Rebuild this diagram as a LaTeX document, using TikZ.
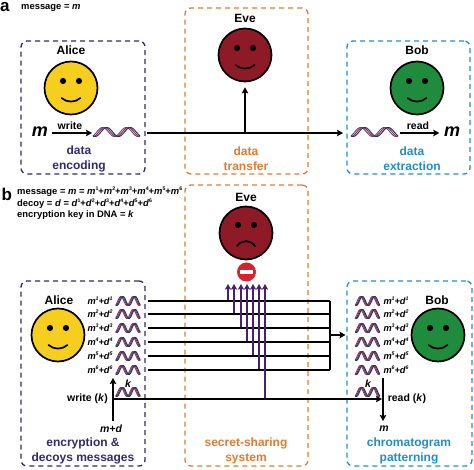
\documentclass[tikz,border=0pt]{standalone}
\usepackage{fontspec}
\setmainfont{Liberation Sans}
\usepackage{xcolor}
\usetikzlibrary{arrows.meta,positioning}
\definecolor{apurple}{HTML}{33296F}
\definecolor{eorange}{HTML}{E8792B}
\definecolor{bblue}{HTML}{1F8FCB}
\definecolor{fyellow}{HTML}{F5CE1F}
\definecolor{fred}{HTML}{8E1A28}
\definecolor{fgreen}{HTML}{1F8C3D}
\definecolor{leakp}{HTML}{4A1F73}
\definecolor{dnared}{HTML}{A62B3A}
\definecolor{dnanavy}{HTML}{28306E}
\definecolor{stopred}{HTML}{D9232B}
\newcommand{\up}[1]{\raisebox{.42em}{\fontsize{5.2}{6}\selectfont #1}}

\tikzset{
  pics/smile/.style={code={
    \fill (-8,-7) circle (3.1pt) (8,-7) circle (3.1pt);
    \draw[line width=1.7pt,line cap=round] (-9.5,10) .. controls (-4,14.8) and (4,14.8) .. (9.5,10);
  }},
  pics/frown/.style={code={
    \fill (-8,-8) circle (3.1pt) (8,-8) circle (3.1pt);
    \draw[line width=1.7pt,line cap=round] (-9,13) .. controls (-4,6.5) and (4,6.5) .. (9,13);
  }},
  pics/dna/.style={code={
    \draw[dnanavy!60!gray,line width=.9pt,domain=-23.5:23.5,samples=50] plot (\x,{4.5*cos(\x*15.3+32)});
    \draw[dnared,line width=1pt,domain=-23.5:23.5,samples=50] plot (\x,{4.5*cos(\x*15.3)});
    \draw[dnanavy,line width=1pt,domain=-23.5:23.5,samples=50] plot (\x,{4.5*cos(\x*15.3-32)});
  }}
}

\begin{document}
\begin{tikzpicture}[
  x=1pt,y=-1pt,
  every node/.style={font=\fontsize{12}{15}\selectfont\bfseries,inner sep=0pt,align=center},
  panel/.style={draw,rounded corners=6pt,line width=1.3pt,dash pattern=on 5pt off 4pt},
  face/.style={circle,draw=black,line width=1.7pt,minimum size=53pt},
  tag/.style={font=\fontsize{17}{17}\selectfont\bfseries},
  info/.style={font=\fontsize{9.4}{11.5}\selectfont\bfseries,anchor=west},
  verb/.style={font=\fontsize{10.5}{12}\selectfont\bfseries},
  bigm/.style={font=\fontsize{18}{18}\selectfont\bfseries\itshape},
  share/.style={font=\fontsize{9.2}{11}\selectfont\bfseries\itshape},
  keyl/.style={font=\fontsize{10.5}{12}\selectfont\bfseries\itshape},
  wire/.style={line width=2pt,line cap=square},
  arrow/.style={line width=2pt,-{Stealth[length=6pt,width=6.5pt,inset=1pt]}},
  leak/.style={leakp,line width=1.6pt,-{Stealth[length=5.5pt,width=6pt,inset=.8pt]}}
]
\useasboundingbox (0,0) rectangle (474,470);

% panel a
\node[tag,anchor=west] (taga) at (0,7.5) {a};
\node[info] (msga) at (21,8) {message = \textit{m}};
\node[panel,draw=apurple,minimum width=124pt,minimum height=133pt] (boxaa) at (83,107.5) {};
\node[panel,draw=eorange,minimum width=123pt,minimum height=166pt] (boxea) at (246.5,91) {};
\node[panel,draw=bblue,minimum width=123pt,minimum height=133pt] (boxba) at (408.5,107.5) {};

\node[face,fill=fyellow] (alicea) at (71,88) {};
\pic at (alicea) {smile};
\node[above=6pt of alicea] (lalicea) {Alice};
\node[face,fill=fred] (evea) at (245,55) {};
\pic at (evea) {smile};
\node[above=5pt of evea] (levea) {Eve};
\node[face,fill=fgreen] (boba) at (417,88) {};
\pic at (boba) {smile};
\node[above=6pt of boba] (lboba) {Bob};

\node[bigm] (ma) at (40,132) {m};
\coordinate (dnaain) at (92,133);
\pic at (116.5,132) {dna};
\node[verb] (writea) at (70,126) {write};
\draw[arrow] (52,133) coordinate (writeain) -- (dnaain);
\node[text=apurple] (lencode) at (79,158.5) {data\\encoding};

\coordinate (senda) at (147,133);
\coordinate (recva) at (343,133);
\coordinate (tapa) at (245,133);
\draw[arrow] (senda) -- (recva);
\draw[arrow,shorten >=5pt] (tapa) -- (evea.south);
\node[text=eorange] (ltransfer) at (246,158.5) {data\\transfer};

\pic at (374.5,132) {dna};
\node[verb] (reada) at (418,126) {read};
\node[bigm] (mb) at (452,132) {m};
\draw[arrow,shorten >=4.5pt] (400,133) coordinate (readain) -- (mb.west |- 0,133);
\node[text=bblue] (lextract) at (412,158.5) {data\\extraction};

% panel b
\node[tag,anchor=west] (tagb) at (1.5,194.5) {b};
\node[info] (msgb) at (17,192) {message = \textit{m} = \textit{m}\up{1}+\textit{m}\up{2}+\textit{m}\up{3}+\textit{m}\up{4}+\textit{m}\up{5}+\textit{m}\up{6}};
\node[info] (decoyb) at (17,204) {decoy = \textit{d} = \textit{d}\up{1}+\textit{d}\up{2}+\textit{d}\up{3}+\textit{d}\up{4}+\textit{d}\up{5}+\textit{d}\up{6}};
\node[info] (keyb) at (17,215) {encryption key in DNA = \textit{k}};
\node[panel,draw=apurple,minimum width=124pt,minimum height=185pt] (boxab) at (83,373.5) {};
\node[panel,draw=eorange,minimum width=123pt,minimum height=281pt] (boxeb) at (246.5,325.5) {};
\node[panel,draw=bblue,minimum width=125pt,minimum height=185pt] (boxbb) at (409.5,373.5) {};

\node[face,fill=fyellow] (aliceb) at (58,335) {};
\pic at (aliceb) {smile};
\node (laliceb) at (59,300) {Alice};
\node[face,fill=fred] (eveb) at (246,233) {};
\pic at (eveb) {frown};
\node[above=4pt of eveb] (leveb) {Eve};
\node[face,fill=fgreen] (bobb) at (438,335) {};
\pic at (bobb) {smile};
\node (lbobb) at (437,300) {Bob};

\node[circle,fill=stopred,minimum size=19pt] (stop) at (246.5,272) {};
\node[fill=white,minimum width=13pt,minimum height=4.5pt] (stopbar) at (stop) {};

% shares
\foreach \i/\y/\x in {1/301/228,2/314/234,3/328/241,4/342/247,5/356/253,6/370/259}{
  \node[share] (ma\i) at (100,\y) {m\up{\i}+d\up{\i}};
  \pic[xscale=.52] at (128,\y) {dna};
  \node[share] (mb\i) at (396,\y) {m\up{\i}+d\up{\i}};
  \pic[xscale=.52] at (367.5,\y) {dna};
  \coordinate (from\i) at (148,\y);
  \coordinate (bus\i) at (330,\y);
  \coordinate (leak\i) at (\x,\y);
  \coordinate (tip\i) at (\x,284);
  \draw[leak] (leak\i) -- (tip\i);
  \draw[wire] (from\i) -- (bus\i);
}
\draw[wire] (bus1) -- (bus6);
\coordinate (busout) at (330,335);
\coordinate (busend) at (345.5,335);
\draw[arrow] (busout) -- (busend);

% key
\coordinate (keyfrom) at (113,399);
\coordinate (keyto) at (382,399);
\coordinate (leak7) at (265,399);
\coordinate (tip7) at (265,284);
\draw[leak] (leak7) -- (tip7);
\draw[arrow,line width=1.7pt] (keyfrom) -- (keyto);

\node[keyl] (msgin) at (111,429) {m+d};
\draw[arrow] (113,421) coordinate (writefrom) -- (113,378);
\node[verb,anchor=east] (writeb) at (108,399) {write (\textit{k})};
\node[keyl] (ka) at (128,384) {k};
\pic[xscale=.52] at (128,392) {dna};
\node[text=apurple] (lencrypt) at (83,450.5) {encryption \&\\decoys messages};
\node[text=eorange] (lsecret) at (246,450.5) {secret-sharing\\system};

\node[keyl] (kb) at (368,384) {k};
\pic[xscale=.52] at (367.5,392) {dna};
\node[keyl] (mout) at (384,429) {m};
\draw[arrow] (383,378) coordinate (readfrom) -- (383,421);
\node[verb] (readb) at (407,399) {read (\textit{k})};
\node[text=bblue] (lchrom) at (409,450.5) {chromatogram\\patterning};
\end{tikzpicture}
\end{document}
